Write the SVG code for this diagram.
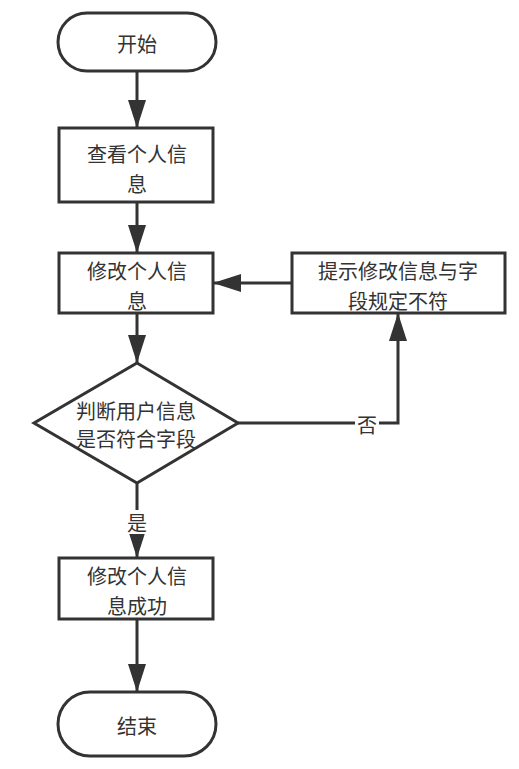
<svg xmlns="http://www.w3.org/2000/svg" width="519" height="769" viewBox="0 0 519 769">
<style>
.shape{fill:#fff;stroke:#333;stroke-width:3}
.edge{fill:none;stroke:#333;stroke-width:3}
.t{font-family:"Noto Sans CJK SC","Noto Sans",sans-serif;font-size:20px;fill:#333;text-anchor:middle;dominant-baseline:central}
</style>
<defs>
<marker id="ah" markerUnits="userSpaceOnUse" markerWidth="28" markerHeight="18" viewBox="0 0 28 18" refX="28" refY="9" orient="auto">
<path d="M0,0 L28,9 L0,18 Z" fill="#333"/>
</marker>
</defs>
<rect width="519" height="769" fill="#fff"/>
<g id="connectors">
<line class="edge" x1="137" y1="72" x2="137" y2="128" marker-end="url(#ah)"/>
<line class="edge" x1="137" y1="202" x2="137" y2="253" marker-end="url(#ah)"/>
<line class="edge" x1="137" y1="313" x2="137" y2="363" marker-end="url(#ah)"/>
<line class="edge" x1="292" y1="283" x2="213" y2="283" marker-end="url(#ah)"/>
<polyline class="edge" points="238,423 398,423 398,313" marker-end="url(#ah)"/>
<line class="edge" x1="137" y1="483" x2="137" y2="558" marker-end="url(#ah)"/>
<line class="edge" x1="137" y1="619" x2="137" y2="692" marker-end="url(#ah)"/>
<rect x="355" y="412" width="24" height="24" fill="#fff"/>
<text class="t" x="367" y="424">否</text>
<rect x="125" y="510" width="24" height="24" fill="#fff"/>
<text class="t" x="137" y="522">是</text>
</g>
<g id="start">
<rect class="shape" x="58" y="13" width="158" height="58" rx="29"/>
<text class="t" x="137" y="43">开始</text>
</g>
<g id="view">
<rect class="shape" x="59" y="128" width="154" height="74"/>
<text class="t" x="137" y="153">查看个人信</text>
<text class="t" x="137" y="183">息</text>
</g>
<g id="modify">
<rect class="shape" x="59" y="253" width="154" height="60"/>
<text class="t" x="137" y="270">修改个人信</text>
<text class="t" x="137" y="300">息</text>
</g>
<g id="hint">
<rect class="shape" x="292" y="253" width="213" height="60"/>
<text class="t" x="398" y="270">提示修改信息与字</text>
<text class="t" x="398" y="300">段规定不符</text>
</g>
<g id="check">
<polygon class="shape" points="137,363 238,423 137,483 34,423"/>
<text class="t" x="136" y="410">判断用户信息</text>
<text class="t" x="136" y="438">是否符合字段</text>
</g>
<g id="success">
<rect class="shape" x="59" y="558" width="154" height="61"/>
<text class="t" x="137" y="575">修改个人信</text>
<text class="t" x="137" y="605">息成功</text>
</g>
<g id="end">
<rect class="shape" x="58" y="692" width="158" height="64" rx="32"/>
<text class="t" x="137" y="725">结束</text>
</g>
</svg>
